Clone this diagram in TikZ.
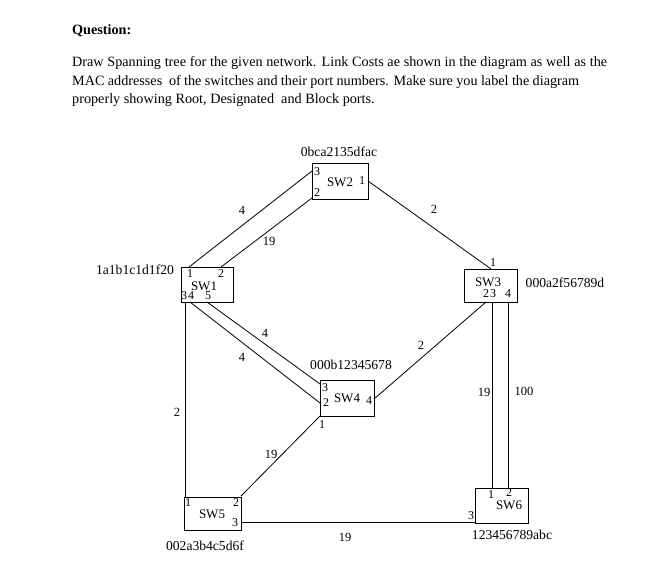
\documentclass[tikz,border=0pt]{standalone}
\usepackage{fontspec}
\setmainfont{Liberation Serif}
\begin{document}
\begin{tikzpicture}[x=1pt,y=-1pt,
  sw/.style={draw,line width=0.9pt,inner sep=0pt},
  link/.style={line width=0.8pt},
  port/.style={font=\fontsize{12}{12}\selectfont,inner sep=0pt},
  cost/.style={font=\fontsize{12.5}{12.5}\selectfont,inner sep=0pt},
  mac/.style={font=\fontsize{13.6}{13.6}\selectfont,inner sep=0pt},
  swname/.style={font=\fontsize{13}{13}\selectfont,inner sep=0pt},
  para/.style={font=\fontsize{14.2}{14.2}\selectfont,anchor=base west,inner sep=0pt}]
\useasboundingbox[fill=white] (0,0) rectangle (656,585);
% question text
\node[para,font=\fontsize{14.2}{14.2}\selectfont\bfseries] (q) at (72,35) {Question:};
\node[para] (l1) at (72,67) {\makebox[535pt][s]{Draw Spanning tree for the given network. Link Costs ae shown in the diagram as well as the}};
\node[para] (l2) at (72,85.5) {\makebox[507pt][s]{MAC addresses\ \ of the switches and their port numbers. Make sure you label the diagram}};
\node[para] (l3) at (72,104) {properly showing Root, Designated\ \ and Block ports.};
% switches
\node[sw,minimum width=52pt,minimum height=35pt] (sw1) at (207,284.5) {};
\node[sw,minimum width=56pt,minimum height=36pt] (sw2) at (340,181) {};
\node[sw,minimum width=53pt,minimum height=33pt] (sw3) at (490.5,285.5) {};
\node[sw,minimum width=54pt,minimum height=36pt] (sw4) at (347,398) {};
\node[sw,minimum width=57pt,minimum height=33pt] (sw5) at (212.5,513.5) {};
\node[sw,minimum width=53pt,minimum height=35pt] (sw6) at (501.5,505.5) {};
% names
\node[swname] (n1) at (204,286) {SW1};
\node[swname] (n2) at (340,182) {SW2};
\node[swname] (n3) at (488,282) {SW3};
\node[swname] (n4) at (347,398) {SW4};
\node[swname] (n5) at (212,514) {SW5};
\node[swname] (n6) at (509,505) {SW6};
% MACs
\node[mac] (m1) at (135,270) {1a1b1c1d1f20};
\node[mac] (m2) at (339,152) {0bca2135dfac};
\node[mac] (m3) at (565,283) {000a2f56789d};
\node[mac] (m4) at (351,365) {000b12345678};
\node[mac] (m5) at (205,546) {002a3b4c5d6f};
\node[mac] (m6) at (512,535) {123456789abc};
% port numbers
\node[port] (p11) at (190,274) {1};
\node[port] (p12) at (221,274) {2};
\node[port] (p13) at (184,296) {3};
\node[port] (p14) at (191,296) {4};
\node[port] (p15) at (208,296) {5};
\node[port] (p21) at (362,181) {1};
\node[port] (p22) at (317,193) {2};
\node[port] (p23) at (317,172) {3};
\node[port] (p31) at (493,263) {1};
\node[port] (p32) at (486,294) {2};
\node[port] (p33) at (493,294) {3};
\node[port] (p34) at (508,294) {4};
\node[port] (p41) at (322,425) {1};
\node[port] (p42) at (326,403) {2};
\node[port] (p43) at (325,388) {3};
\node[port] (p44) at (369,401) {4};
\node[port] (p51) at (188,503) {1};
\node[port] (p52) at (236,503) {2};
\node[port] (p53) at (235,523) {3};
\node[port] (p61) at (491,495) {1};
\node[port] (p62) at (509,493) {2};
\node[port] (p63) at (471,516) {3};
% port coordinates
\coordinate (a11) at (189,267);
\coordinate (a12) at (221,267);
\coordinate (a13) at (185,302);
\coordinate (a14) at (190,302);
\coordinate (a15) at (207,302);
\coordinate (a21) at (368,181);
\coordinate (a22) at (312,198);
\coordinate (a23) at (312,171);
\coordinate (a31) at (491,269);
\coordinate (a32) at (486,302);
\coordinate (a33) at (492,302);
\coordinate (a34) at (508,302);
\coordinate (a41) at (320,416);
\coordinate (a42) at (320,403);
\coordinate (a43) at (320,384);
\coordinate (a44) at (374,399);
\coordinate (a51) at (185,497);
\coordinate (a52) at (241,496);
\coordinate (a53) at (241,522);
\coordinate (a61) at (492,488);
\coordinate (a62) at (508,488);
\coordinate (a63) at (475,522);
% links
\draw[link] (a11) -- (a23);
\draw[link] (a12) -- (a22);
\draw[link] (a21) -- (a31);
\draw[link] (a13) -- (a51);
\draw[link] (a14) -- (a42);
\draw[link] (a15) -- (a43);
\draw[link] (a32) -- (a44);
\draw[link] (a33) -- (a61);
\draw[link] (a34) -- (a62);
\draw[link] (a41) -- (a52);
\draw[link] (a53) -- (a63);
% costs
\node[cost] (c1) at (242,210) {4};
\node[cost] (c2) at (269,241) {19};
\node[cost] (c3) at (434,209) {2};
\node[cost] (c4) at (265,333) {4};
\node[cost] (c5) at (242,357) {4};
\node[cost] (c6) at (177,412) {2};
\node[cost] (c7) at (421,345) {2};
\node[cost] (c8) at (271,454) {19};
\node[cost] (c9) at (484,392) {19};
\node[cost] (c10) at (524,391) {100};
\node[cost] (c11) at (345,537) {19};
\end{tikzpicture}
\end{document}
